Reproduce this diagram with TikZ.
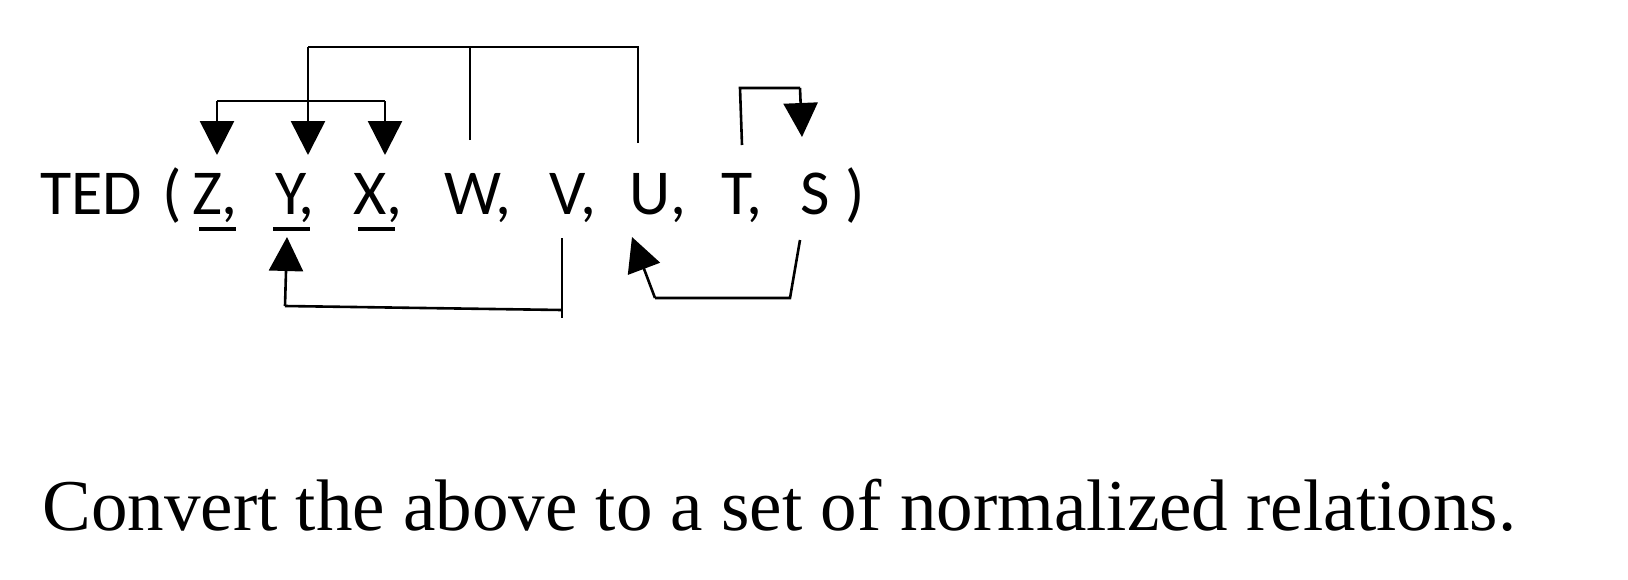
\documentclass[tikz,border=0pt]{standalone}
\usepackage{fontspec}
\setmainfont{Liberation Serif}
\newfontfamily\carlitofont{Carlito}
\usetikzlibrary{arrows.meta}
\begin{document}
\begin{tikzpicture}[x=0.5pt,y=-0.5pt,
  lt/.style={font=\carlitofont\fontsize{32}{32}\selectfont,anchor=base,inner sep=0pt},
  ln/.style={line width=1.3pt},
  ar/.style={ln,-{Triangle[width=17pt,length=17pt]}}]
\useasboundingbox (0,0) rectangle (1628,579);
\node[lt,anchor=base west] (ted) at (40,214) {TED};
\node[lt] (lp) at (172,214) {(};
\node[lt] (z) at (215,214) {Z,};
\node[lt] (y) at (295,214) {Y,};
\node[lt] (x) at (378,214) {X,};
\node[lt] (w) at (478,214) {W,};
\node[lt] (v) at (573,214) {V,};
\node[lt] (u) at (658,214) {U,};
\node[lt] (t) at (742,214) {T,};
\node[lt] (s) at (815,214) {S};
\node[lt] (rp) at (855,214) {)};
\draw[line width=1.8pt] (199,229) -- (236,229);
\draw[line width=1.8pt] (273,229) -- (310,229);
\draw[line width=1.8pt] (358,229) -- (395,229);
\coordinate (a1) at (308,47); \coordinate (a2) at (638,47);
\coordinate (b1) at (217,101); \coordinate (b2) at (385,101);
\draw[ln] (470,140) -- (470,47);
\draw[ln] (638,143) -- (a2) -- (a1);
\draw[ar] (a1) -- (308,155);
\draw[ln] (b1) -- (b2);
\draw[ar] (b1) -- (217,155);
\draw[ar] (b2) -- (385,155);
\draw[ln] (742,145) -- (740,88) -- (800,88);
\draw[ar] (800,88) -- (802,137);
\draw[ln] (562,238) -- (562,318);
\draw[ln] (562,310) -- (285,306);
\draw[ar] (285,306) -- (287,237);
\draw[ln] (800,240) -- (790,298) -- (655,298);
\draw[ar] (655,298) -- (632,237);
\node[font=\fontsize{36.5}{36.5}\selectfont,anchor=base west,inner sep=0pt] (cap) at (42,530) {Convert the above to a set of normalized relations.};
\end{tikzpicture}
\end{document}
